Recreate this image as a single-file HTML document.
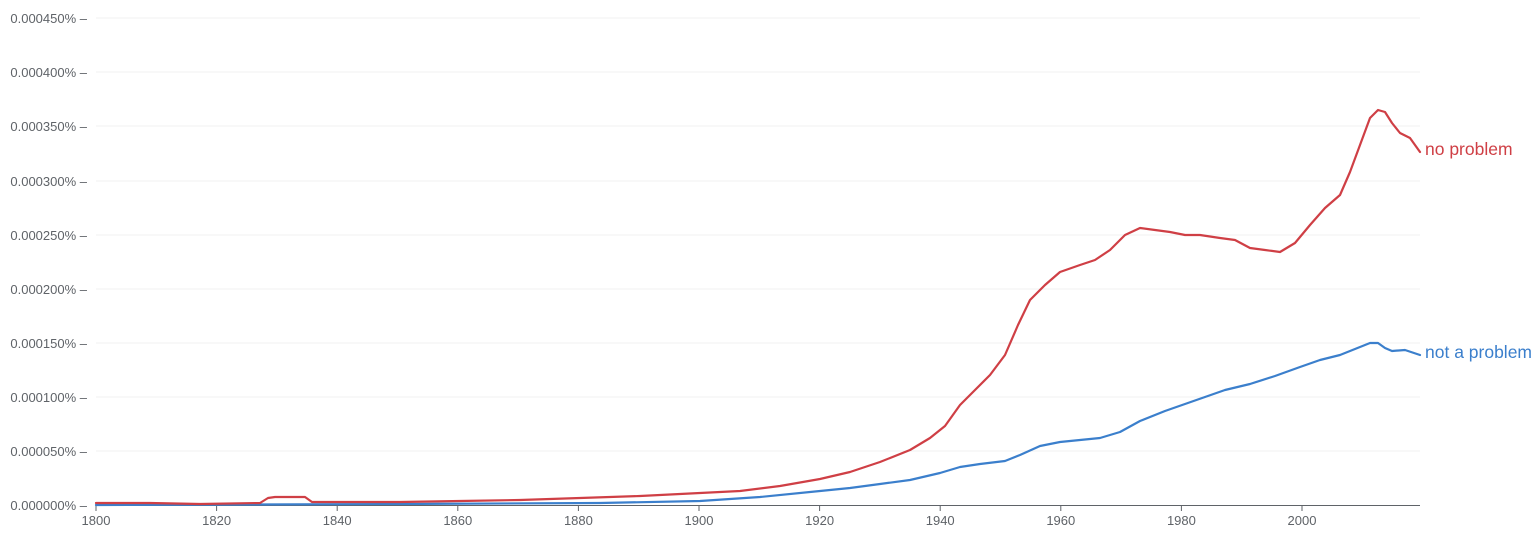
<!DOCTYPE html>
<html><head><style>body{margin:0;background:#fff}svg{display:block;font-family:"Liberation Sans",sans-serif}</style></head>
<body>
<svg width="1536" height="534" viewBox="0 0 1536 534">
<g stroke="#f0f0f0" stroke-width="1">
<line x1="96" x2="1420" y1="18" y2="18"/><line x1="96" x2="1420" y1="72" y2="72"/><line x1="96" x2="1420" y1="126" y2="126"/><line x1="96" x2="1420" y1="181" y2="181"/><line x1="96" x2="1420" y1="235" y2="235"/><line x1="96" x2="1420" y1="289" y2="289"/><line x1="96" x2="1420" y1="343" y2="343"/><line x1="96" x2="1420" y1="397" y2="397"/><line x1="96" x2="1420" y1="451" y2="451"/>
</g>
<g fill="#5f6368" font-size="13" text-anchor="end">
<text x="87" y="23">0.000450% –</text><text x="87" y="77">0.000400% –</text><text x="87" y="131">0.000350% –</text><text x="87" y="186">0.000300% –</text><text x="87" y="240">0.000250% –</text><text x="87" y="294">0.000200% –</text><text x="87" y="348">0.000150% –</text><text x="87" y="402">0.000100% –</text><text x="87" y="456">0.000050% –</text><text x="87" y="510">0.000000% –</text>
</g>
<line x1="96" x2="1420" y1="505.5" y2="505.5" stroke="#5f6368" stroke-width="1"/>
<g stroke="#5f6368"><line x1="96" x2="96" y1="505" y2="511"/><line x1="216.6" x2="216.6" y1="505" y2="511"/><line x1="337.2" x2="337.2" y1="505" y2="511"/><line x1="457.8" x2="457.8" y1="505" y2="511"/><line x1="578.4" x2="578.4" y1="505" y2="511"/><line x1="699" x2="699" y1="505" y2="511"/><line x1="819.6" x2="819.6" y1="505" y2="511"/><line x1="940.2" x2="940.2" y1="505" y2="511"/><line x1="1060.8" x2="1060.8" y1="505" y2="511"/><line x1="1181.4" x2="1181.4" y1="505" y2="511"/><line x1="1302" x2="1302" y1="505" y2="511"/></g>
<g fill="#5f6368" font-size="13" text-anchor="middle">
<text x="96" y="525">1800</text><text x="216.6" y="525">1820</text><text x="337.2" y="525">1840</text><text x="457.8" y="525">1860</text><text x="578.4" y="525">1880</text><text x="699" y="525">1900</text><text x="819.6" y="525">1920</text><text x="940.2" y="525">1940</text><text x="1060.8" y="525">1960</text><text x="1181.4" y="525">1980</text><text x="1302" y="525">2000</text>
</g>
<polyline fill="none" stroke="#3b7fcc" stroke-width="2.2" stroke-linejoin="round" stroke-linecap="round" points="96,505 400,504 600,503 700,501 760,497 820,491 850,488 880,484 910,480 940,473 960,467 980,464 1005,461 1020,455 1040,446 1060,442 1080,440 1100,438 1120,432 1140,421 1165,411 1185,404 1205,397 1225,390 1250,384 1275,376 1300,367 1320,360 1340,355 1355,349 1370,343 1378,343 1385,348 1392,351 1405,350 1420,355"/>
<polyline fill="none" stroke="#cf3f45" stroke-width="2.2" stroke-linejoin="round" stroke-linecap="round" points="96,503 150,503 200,504 260,503 268,498 275,497 305,497 312,502 400,502 460,501 520,500 580,498 640,496 700,493 740,491 780,486 820,479 850,472 880,462 910,450 930,438 945,426 960,405 975,390 990,375 1005,355 1018,325 1030,300 1045,285 1060,272 1080,265 1095,260 1110,250 1125,235 1140,228 1155,230 1170,232 1185,235 1200,235 1220,238 1235,240 1250,248 1265,250 1280,252 1295,243 1310,225 1325,208 1340,195 1350,172 1360,145 1370,118 1378,110 1385,112 1392,123 1400,133 1410,138 1420,152"/>
<text x="1425" y="155" fill="#cf3f45" font-size="17.5">no problem</text>
<text x="1425" y="358" fill="#3b7fcc" font-size="17.5">not a problem</text>
</svg>
</body></html>
